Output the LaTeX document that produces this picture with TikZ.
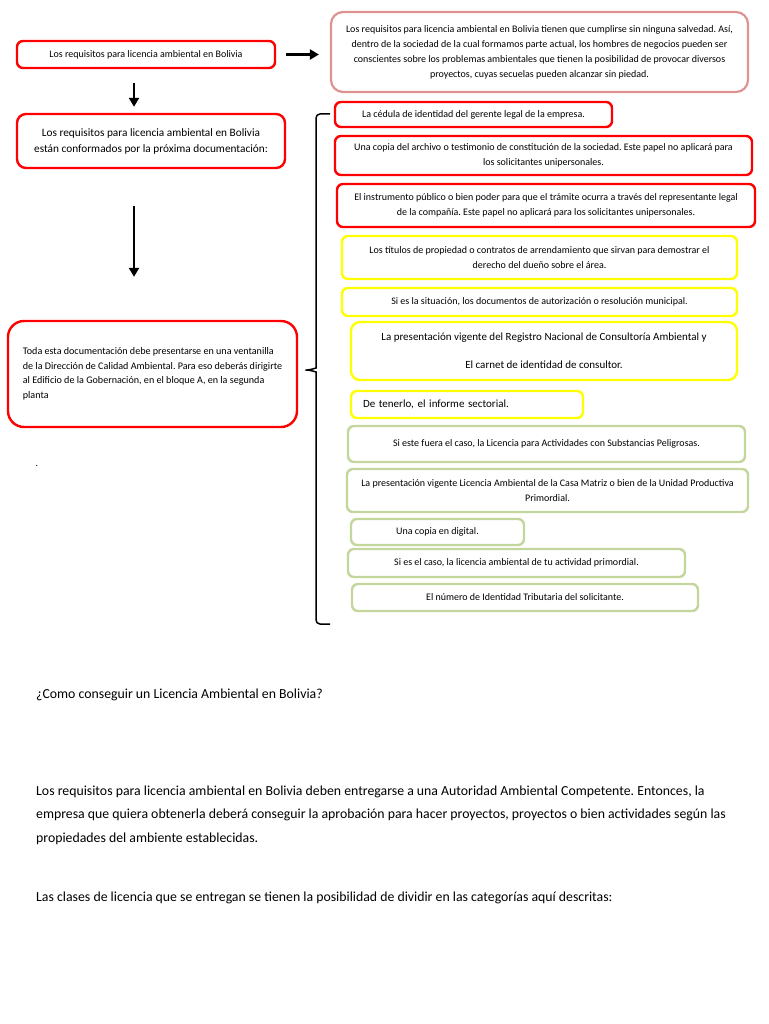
\documentclass[tikz,border=0pt]{standalone}
\usepackage{fontspec}
\setmainfont{Carlito}
\usepackage{xcolor}
\usetikzlibrary{arrows.meta,positioning}

\definecolor{boxred}{RGB}{255,0,0}
\definecolor{boxyellow}{RGB}{255,255,0}
\definecolor{boxgreen}{RGB}{195,214,155}
\definecolor{boxpink}{RGB}{222,146,146}
\frenchspacing

\begin{document}
\begin{tikzpicture}[x=1pt, y=-1pt,
    redbox/.style={draw=boxred, line width=2.4pt, rounded corners=6pt, align=center, inner sep=0pt, font=\fontsize{10}{14.5}\selectfont},
    yellowbox/.style={draw=boxyellow, line width=2.4pt, rounded corners=6pt, align=center, inner sep=0pt, font=\fontsize{10}{14.5}\selectfont},
    greenbox/.style={draw=boxgreen, line width=2.4pt, rounded corners=6pt, align=center, inner sep=0pt, font=\fontsize{10}{14.5}\selectfont},
    pinkbox/.style={draw=boxpink, line width=2.2pt, rounded corners=12pt, align=center, inner sep=0pt, font=\fontsize{10}{15}\selectfont},
    plaintext/.style={inner sep=0pt, align=left, font=\fontsize{13.8}{23.5}\selectfont},
    arrow/.style={-{Triangle[length=9pt,width=10pt]}, line width=2.2pt, draw=black}
]
\path[fill=white, use as bounding box] (0,0) rectangle (768,1024);

% left column
\node[redbox, minimum width=258pt, minimum height=27pt] (head) at (146,54.5) {Los requisitos para licencia ambiental en Bolivia};
\node[pinkbox, minimum width=417pt, minimum height=80pt] (intro) at (539.5,52) {Los requisitos para licencia ambiental en Bolivia tienen que cumplirse sin ninguna salvedad. Así,\\dentro de la sociedad de la cual formamos parte actual, los hombres de negocios pueden ser\\conscientes sobre los problemas ambientales que tienen la posibilidad de provocar diversos\\proyectos, cuyas secuelas pueden alcanzar sin piedad.};
\node[redbox, minimum width=268pt, minimum height=54pt, rounded corners=9pt, font=\fontsize{11.3}{16}\selectfont] (conform) at (151,141) {Los requisitos para licencia ambiental en Bolivia\\están conformados por la próxima documentación:};
\node[redbox, minimum width=289pt, minimum height=106pt, rounded corners=16pt, align=left, font=\fontsize{10.1}{14.5}\selectfont] (window) at (152.5,374) {Toda esta documentación debe presentarse en una ventanilla\\de la Dirección de Calidad Ambiental. Para eso deberás dirigirte\\al Edificio de la Gobernación, en el bloque A, en la segunda\\planta};
\node[inner sep=0pt, font=\fontsize{10}{12}\selectfont] (dot) at (37,466) {.};

\draw[arrow, shorten <=10pt, shorten >=11pt] (head.east) -- (head.east -| intro.west);
\draw[arrow, shorten <=14pt, shorten >=6pt] ([xshift=-12pt]head.south) -- ([xshift=-17pt]conform.north);
\draw[arrow, shorten <=37pt, shorten >=43pt] ([xshift=-17pt]conform.south) -- ([xshift=-18.5pt]window.north);

% brace
\coordinate (bracetop) at (330,114);
\coordinate (bracetip) at (303,370);
\coordinate (bracebot) at (330,624);
\draw[line width=1.5pt, rounded corners=4pt] (bracetop) -| (316,364) .. controls (316,368) and (310,370) .. (bracetip) .. controls (310,370) and (316,372) .. (316,376) |- (bracebot);

% documents
\node[redbox, minimum width=277pt, minimum height=25pt] (cedula) at (473.5,114.5) {La cédula de identidad del gerente legal de la empresa.};
\node[redbox, minimum width=417pt, minimum height=39pt] (archivo) at (543.5,155.5) {Una copia del archivo o testimonio de constitución de la sociedad. Este papel no aplicará para\\los solicitantes unipersonales.};
\node[redbox, minimum width=418pt, minimum height=43pt] (poder) at (546,205.5) {El instrumento público o bien poder para que el trámite ocurra a través del representante legal\\de la compañía. Este papel no aplicará para los solicitantes unipersonales.};
\node[yellowbox, minimum width=395pt, minimum height=43pt] (titulos) at (539.5,257.5) {Los títulos de propiedad o contratos de arrendamiento que sirvan para demostrar el\\derecho del dueño sobre el área.};
\node[yellowbox, minimum width=395pt, minimum height=28pt] (municipal) at (539.5,302) {Si es la situación, los documentos de autorización o resolución municipal.};
\node[yellowbox, minimum width=386pt, minimum height=58pt, rounded corners=9pt, font=\fontsize{11}{14}\selectfont] (registro) at (544,351) {La presentación vigente del Registro Nacional de Consultoría Ambiental y\\[14pt]El carnet de identidad de consultor.};
\node[yellowbox, minimum width=232pt, minimum height=27pt, align=left, text width=208pt, font=\fontsize{11}{14}\selectfont] (sectorial) at (467,404.5) {De tenerlo, el informe sectorial.};
\node[greenbox, minimum width=397pt, minimum height=36pt] (peligrosas) at (546.5,444) {Si este fuera el caso, la Licencia para Actividades con Substancias Peligrosas.};
\node[greenbox, minimum width=401pt, minimum height=43pt] (matriz) at (547.5,490.5) {La presentación vigente Licencia Ambiental de la Casa Matriz o bien de la Unidad Productiva\\Primordial.};
\node[greenbox, minimum width=173pt, minimum height=26pt] (digital) at (437.5,532) {Una copia en digital.};
\node[greenbox, minimum width=337pt, minimum height=28pt] (primordial) at (516.5,563) {Si es el caso, la licencia ambiental de tu actividad primordial.};
\node[greenbox, minimum width=346pt, minimum height=27pt] (tributaria) at (525,597.5) {El número de Identidad Tributaria del solicitante.};

% text below
\node[plaintext, anchor=west] (question) at (36,695) {¿Como conseguir un Licencia Ambiental en Bolivia?};
\node[plaintext, anchor=west] (authority) at (36,815) {Los requisitos para licencia ambiental en Bolivia deben entregarse a una Autoridad Ambiental Competente. Entonces, la\\empresa que quiera obtenerla deberá conseguir la aprobación para hacer proyectos, proyectos o bien actividades según las\\propiedades del ambiente establecidas.};
\node[plaintext, anchor=west] (classes) at (36,898) {Las clases de licencia que se entregan se tienen la posibilidad de dividir en las categorías aquí descritas:};

\end{tikzpicture}
\end{document}
